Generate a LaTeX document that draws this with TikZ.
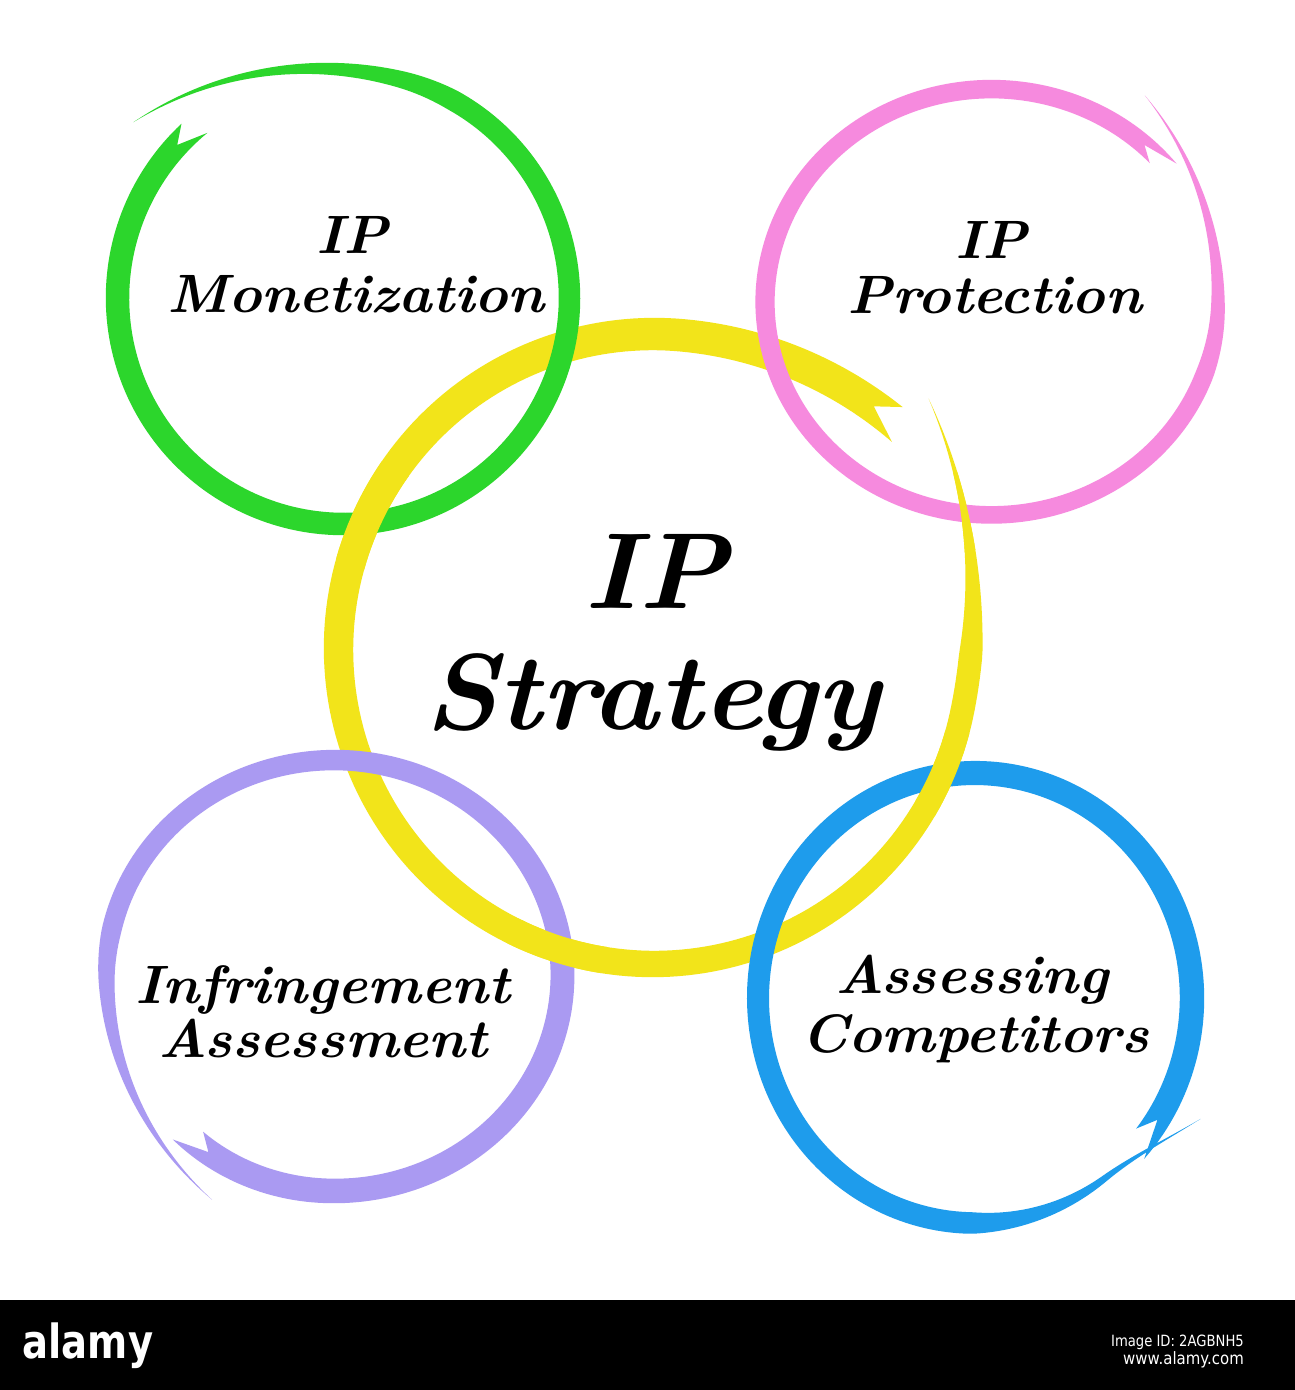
\documentclass[tikz,border=0pt]{standalone}
\usepackage{fontspec}
\usepackage{graphicx}
\newfontfamily\wmfont{DejaVu Sans}
\definecolor{ringgreen}{RGB}{44,214,44}
\definecolor{ringpink}{RGB}{246,138,222}
\definecolor{ringyellow}{RGB}{242,228,26}
\definecolor{ringlav}{RGB}{170,154,242}
\definecolor{ringblue}{RGB}{30,156,236}
\pgfkeys{/ring/cx/.store in=\rcx, /ring/cy/.store in=\rcy, /ring/r/.store in=\rr,
 /ring/kx/.store in=\rkx, /ring/ky/.store in=\rky, /ring/a0/.store in=\raa,
 /ring/sweep/.store in=\rsw, /ring/w0/.store in=\rwa, /ring/w1/.store in=\rwb,
 /ring/tw/.store in=\rtw, /ring/mix/.store in=\rmix, /ring/se/.store in=\rse,
 /ring/ts/.store in=\rts, /ring/ee/.store in=\ree, /ring/te/.store in=\rte,
 /ring/notch/.store in=\rnd, /ring/os/.store in=\ros, /ring/is/.store in=\ris}
\newcommand\setring[1]{\pgfkeys{/ring/.cd, kx=1, ky=1, mix=1, se=0, ts=0.1, notch=0.02, os=0, is=0, #1}}
\newcommand\ringshape{plot[variable=\s,domain=\ros:1,samples=240]
 ({\rcx+\rkx*(ringR(\s)+0.5*ringW(\s))*cos(ringA(\s))},{\rcy+\rky*(ringR(\s)+0.5*ringW(\s))*sin(ringA(\s))})
 -- plot[variable=\s,domain=1:\ris,samples=240]
 ({\rcx+\rkx*(ringR(\s)-0.5*ringW(\s))*cos(ringA(\s))},{\rcy+\rky*(ringR(\s)-0.5*ringW(\s))*sin(ringA(\s))})
 -- ({\rcx+\rkx*ringR(\rnd)*cos(ringA(\rnd))},{\rcy+\rky*ringR(\rnd)*sin(ringA(\rnd))}) -- cycle}
\newcommand\yellowparams{\setring{cx=653.5, cy=649, r=315, a0=-42, sweep=360.3, w0=34, w1=22, tw=0.88, mix=0.6, se=17, ts=0.12, ee=57, te=0.85, notch=0.016, os=0.006, is=-0.004}}
\newcommand\wide[1]{\scalebox{1.05}[1]{#1}}
\begin{document}
\begin{tikzpicture}[x=1pt,y=-1pt,
 declare function={
  rsf(\t)=max(0,1-\t/\rts);
  ref(\t)=max(0,(\t-\rte)/(1-\rte));
  ringR(\t)=\rr+(\rse)*rsf(\t)*rsf(\t)+(\ree)*ref(\t)*ref(\t);
  rtf(\t)=min(1,(1-\t)/(1-\rtw));
  ringW(\t)=(\rwa+(\rwb-\rwa)*\t)*(\rmix*rtf(\t)+(1-\rmix)*rtf(\t)*rtf(\t));
  ringA(\t)=\raa-\rsw*\t;
 },
 lbl/.style={font=\fontsize{54}{58}\selectfont\bfseries\itshape, anchor=base, inner sep=0pt, text=black},
 biglbl/.style={font=\fontsize{108}{116}\selectfont\bfseries\itshape, anchor=base, inner sep=0pt, text=black},
 wmtext/.style={text=white, inner sep=0pt, anchor=base east}]
\useasboundingbox (0,0) rectangle (1295,1390);
\fill[white] (0,0) rectangle (1295,1300);
\fill[black] (0,1300) rectangle (1295,1390);
% central yellow ring
\yellowparams
\fill[ringyellow] \ringshape;
% green
\setring{cx=343.5, cy=298, r=226, a0=230.8, sweep=370.9, w0=24, w1=20, tw=0.787, ee=48, te=0.827, notch=0.022, os=0.01, is=-0.002}
\fill[ringgreen] \ringshape;
% pink
\setring{cx=991.5, cy=302, r=226.5, ky=0.94, a0=-40, sweep=375.1, w0=20, w1=18, tw=0.8, ee=41.5, te=0.85, notch=0.02, os=-0.004, is=0.008}
\fill[ringpink] \ringshape;
% lavender
\setring{cx=334.5, cy=975.5, r=228, ky=0.945, a0=131.5, sweep=374.2, w0=27, w1=18, tw=0.8, se=-4, ts=0.1, ee=39, te=0.84, notch=0.02, os=-0.004, is=0.008}
\fill[ringlav] \ringshape;
% blue
\setring{cx=975, cy=998, r=217, ky=1.037, a0=41, sweep=373.7, w0=25, w1=20, tw=0.83, mix=0.6, ee=37, te=0.93, notch=0.022, os=-0.004, is=0.008}
\fill[ringblue] \ringshape;
% yellow on top at some crossings
\begin{scope}
\clip (370,515) circle[radius=55] (963,512) circle[radius=40] (557,950) circle[radius=50] (952,775) circle[radius=45];
\yellowparams
\fill[ringyellow] \ringshape;
\end{scope}
% labels
\node[lbl] (monip) at (352,253) {\wide{IP}};
\node[lbl] (mon) at (356,312) {\wide{Monetization}};
\node[lbl] (proip) at (991,258) {\wide{IP}};
\node[lbl] (pro) at (995,313) {\wide{Protection}};
\node[biglbl] (strip) at (656,608) {\wide{IP}};
\node[biglbl] (str) at (652,729) {\wide{Strategy}};
\node[lbl] (inf) at (323,1003) {\wide{Infringement}};
\node[lbl] (infa) at (323,1057) {\wide{Assessment}};
\node[lbl] (ass) at (972,993) {\wide{Assessing}};
\node[lbl] (comp) at (975,1052) {\wide{Competitors}};
% watermark bar
\node[text=white, inner sep=0pt, anchor=base] (logo) at (88,1358) {\wmfont\bfseries\fontsize{47}{50}\selectfont\scalebox{0.82}[1]{alamy}};
\node[wmtext] (imgid) at (1244,1346) {\wmfont\fontsize{15.5}{16}\selectfont\scalebox{0.85}[1]{Image ID: 2AGBNH5}};
\node[wmtext] (www) at (1244,1364) {\wmfont\fontsize{17}{18}\selectfont\scalebox{0.88}[1]{www.alamy.com}};
\end{tikzpicture}
\end{document}
